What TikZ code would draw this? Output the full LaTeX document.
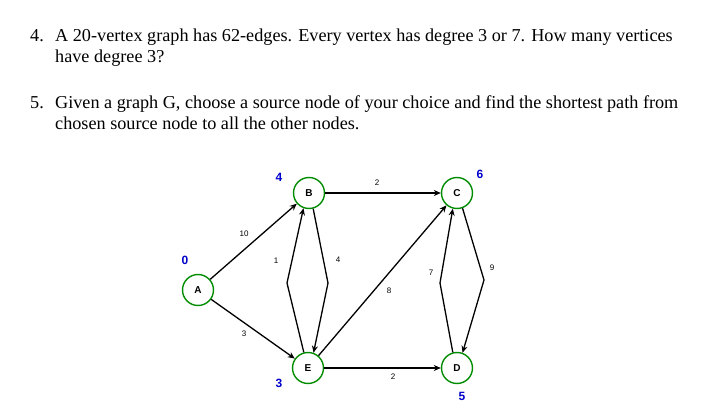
\documentclass[tikz,border=0pt]{standalone}
\usepackage{fontspec}
\usetikzlibrary{arrows.meta}
\setmainfont{Liberation Serif}
\newfontfamily\arial{Liberation Sans}
\begin{document}
\begin{tikzpicture}[x=1pt,y=-1pt,
  vert/.style={circle,draw=green!55!black,line width=1.4pt,minimum size=31pt,inner sep=0pt,font=\arial\bfseries\fontsize{10}{12}\selectfont,fill=white},
  edge/.style={-{Stealth[length=7pt,width=6pt]},line width=1.3pt},
  wt/.style={font=\arial\fontsize{8}{9}\selectfont},
  dist/.style={font=\arial\bfseries\fontsize{12}{14}\selectfont,text=blue!80!black},
  txt/.style={anchor=base west,inner sep=0pt,font=\fontsize{18.2}{20}\selectfont}]
\useasboundingbox (0,0) rectangle (713,412);
\node[txt] (n4) at (30,42) {4.};
\node[txt] (t4a) at (55,42) {A 20-vertex graph has 62-edges. Every vertex has degree 3 or 7. How many vertices};
\node[txt] (t4b) at (55,63) {have degree 3?};
\node[txt] (n5) at (30,109) {5.};
\node[txt] (t5a) at (55,109) {Given a graph G, choose a source node of your choice and find the shortest path from};
\node[txt] (t5b) at (55,130) {chosen source node to all the other nodes.};
\node[vert] (A) at (198,290) {A};
\node[vert] (B) at (309,193) {B};
\node[vert] (C) at (457,193) {C};
\node[vert] (E) at (308,368) {E};
\node[vert] (D) at (457,368) {D};
\coordinate (be) at (328,283);
\coordinate (eb) at (287,283);
\coordinate (cd) at (484,280);
\coordinate (dc) at (440,283);
\draw[edge] (A) -- (B);
\draw[edge] (A) -- (E);
\draw[edge] (B) -- (C);
\draw[edge] (E) -- (D);
\draw[edge] (E) -- (C);
\draw[edge] (B.-75) -- (be) -- (E.70);
\draw[edge] (E.105) -- (eb) -- (B.-110);
\draw[edge] (C.-70) -- (cd) -- (D.70);
\draw[edge] (D.105) -- (dc) -- (C.-105);
\node[wt] (w1) at (244,234) {10};
\node[wt] (w2) at (244,334) {3};
\node[wt] (w3) at (276,261) {1};
\node[wt] (w4) at (338,260) {4};
\node[wt] (w5) at (377,183) {2};
\node[wt] (w6) at (389,291) {8};
\node[wt] (w7) at (431,273) {7};
\node[wt] (w8) at (492,268) {9};
\node[wt] (w9) at (393,377) {2};
\node[dist] (d0) at (185,260) {0};
\node[dist] (d4) at (279,177) {4};
\node[dist] (d6) at (480,174) {6};
\node[dist] (d3) at (279,383) {3};
\node[dist] (d5) at (462,396) {5};
\end{tikzpicture}
\end{document}
